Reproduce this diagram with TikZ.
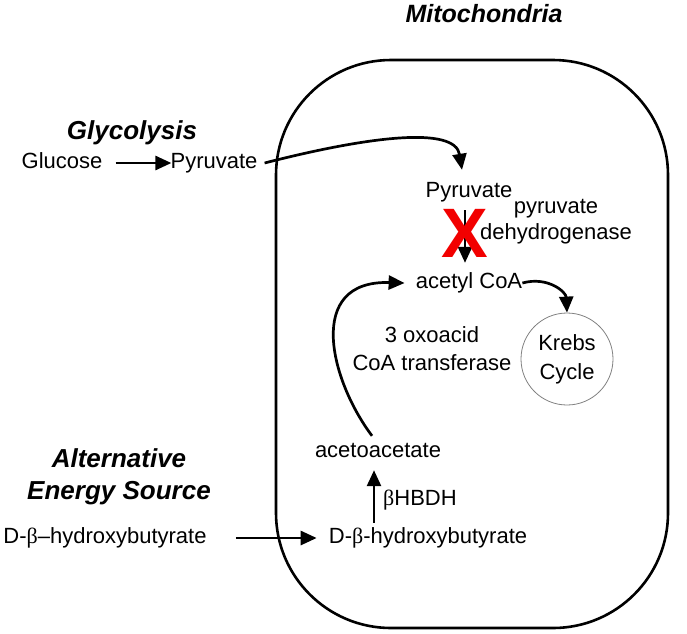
\documentclass[tikz,border=0pt]{standalone}
\usepackage{fontspec}
\setmainfont{Liberation Sans}
\newfontfamily\greekf{Liberation Serif}
\usetikzlibrary{arrows.meta}
\newcommand{\bet}{{\greekf β}}
\begin{document}
\begin{tikzpicture}[x=1pt,y=-1pt,
  txt/.style={inner sep=0pt, font=\fontsize{22}{26}\selectfont, text height=15.5pt, text depth=4.5pt},
  ttl/.style={inner sep=0pt, font=\fontsize{26}{31}\selectfont\bfseries\itshape},
  arr/.style={line width=2.7pt, -{Triangle[length=16pt,width=14pt]}},
  wall/.style={line width=2.6pt, rounded corners=115pt}]
\useasboundingbox (0,0) rectangle (687,633);
\draw[wall] (276,60) rectangle (668,628);
\node[ttl, font=\fontsize{25}{30}\selectfont\bfseries\itshape] (mito) at (484,14) {Mitochondria};
\node[ttl] (glyc) at (132,133) {Glycolysis};
\node[txt] (glucose) at (62,163) {Glucose};
\node[txt] (pyr1) at (214,163) {Pyruvate};
\node[txt] (pyr2) at (469,192) {Pyruvate};
\node[txt, align=center, text height=, text depth=] (pdh) at (556,222) {pyruvate\\dehydrogenase};
\node[txt] (acetyl) at (469,283) {acetyl CoA};
\node[draw=gray, line width=0.8pt, circle, minimum size=92pt, inner sep=0pt,
      font=\fontsize{22}{29}\selectfont, align=center] (krebs) at (567,359) {Krebs\\Cycle};
\node[txt, align=center, text height=, text depth=, font=\fontsize{22}{28}\selectfont] (oxo) at (432,349) {3 oxoacid\\CoA transferase};
\node[txt] (aceto) at (378,452) {acetoacetate};
\node[txt] (hbdh) at (420,500) {\bet HBDH};
\node[ttl, align=center, font=\fontsize{26}{32}\selectfont\bfseries\itshape] (alt) at (119,477) {Alternative\\Energy Source};
\node[txt] (dbh1) at (105,538) {D-\bet–hydroxybutyrate};
\node[txt] (dbh2) at (428,538) {D-\bet-hydroxybutyrate};
\draw[arr] ([xshift=13pt]glucose.east) -- ([xshift=1pt]pyr1.west);
\draw[arr] ([xshift=7pt]pyr1.east) .. controls (370,136) and (455,126) .. ([xshift=-7pt,yshift=12pt]pyr2.north);
\draw[arr] ([xshift=-4pt,yshift=-8pt]pyr2.south) -- ([xshift=-4pt,yshift=10pt]acetyl.north);
\node[inner sep=0pt, text=red!95!black, font=\fontsize{70}{70}\selectfont\bfseries] (x) at (465,233) {X};
\draw[arr] (acetyl.east) .. controls (548,276) and (566,292) .. (krebs.north);
\draw[arr] ([xshift=-6pt,yshift=6pt]aceto.north) .. controls (330,380) and (305,280) .. ([xshift=-11pt]acetyl.west);
\draw[arr] ([xshift=-54pt,yshift=5pt]dbh2.north) -- ([xshift=-4pt,yshift=-8pt]aceto.south);
\draw[arr] ([xshift=29pt]dbh1.east) -- ([xshift=-12pt]dbh2.west);
\end{tikzpicture}
\end{document}
